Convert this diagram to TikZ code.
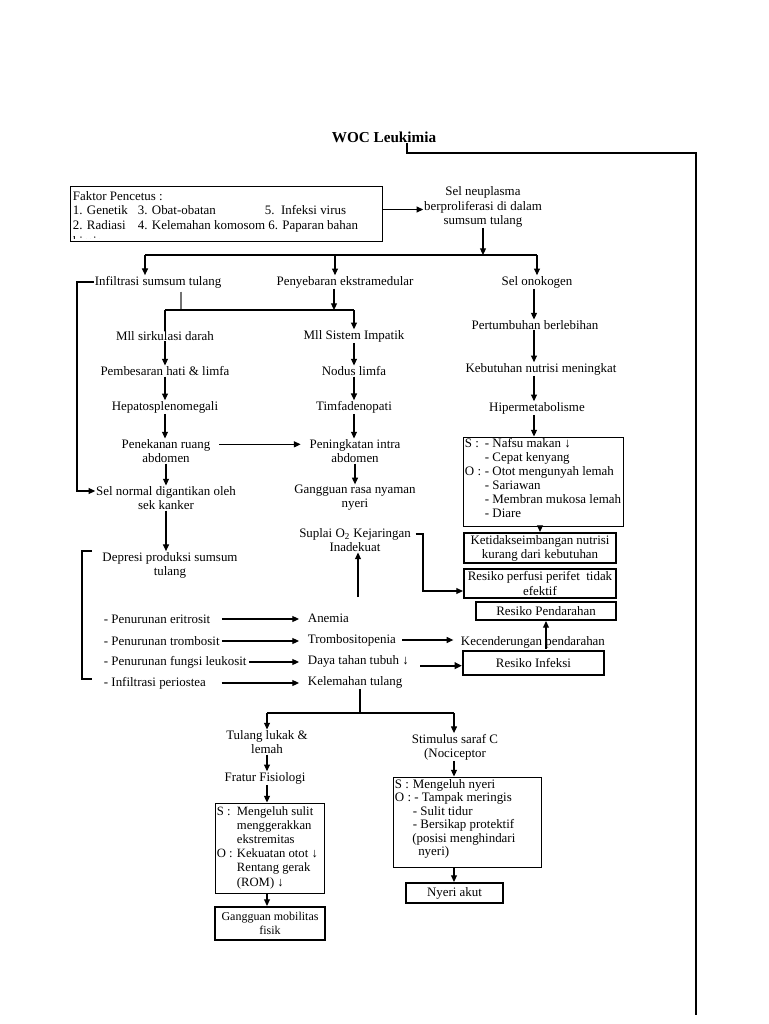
\documentclass[tikz,border=0pt]{standalone}
\usepackage{fontspec}
\setmainfont{Liberation Serif}
\usetikzlibrary{arrows.meta}
\newcommand\myfs{\fontsize{9.7}{10.6}\selectfont}
\begin{document}
\begin{tikzpicture}[x=0.75pt,y=-0.75pt,
 txt/.style={inner sep=0.5pt,align=center,font=\myfs},
 ltxt/.style={inner sep=0.5pt,anchor=west,align=left,font=\myfs},
 thinbox/.style={draw,line width=0.75pt,inner sep=0pt,font=\myfs,align=center},
 thickbox/.style={draw,line width=1.6pt,inner sep=0pt,font=\myfs,align=center},
 ln/.style={line width=0.8pt},
 arr/.style={line width=0.8pt,-{Triangle[length=5pt,width=4.5pt]}},
 tarr/.style={line width=1.5pt,-{Triangle[length=5.5pt,width=5pt]}},
]
\fill[white] (0,0) rectangle (768,1024);
\path[use as bounding box] (0,0) rectangle (768,1024);

% title and frame
\node[font=\fontsize{11.4}{13}\selectfont\bfseries,inner sep=0.5pt] (title) at (384,137) {WOC Leukimia};
\coordinate (fr0) at (407,143);
\draw[ln] (fr0) -- (407,153) -- (696,153) -- (696,1015);

% faktor pencetus
\node[thinbox,minimum width=234pt,minimum height=41.25pt] (faktor) at (226,213.5) {};
\node[ltxt,font=\fontsize{9.7}{10.9}\selectfont] (faktxt) at (72,211.5) {Faktor Pencetus :\\
\makebox[48.75pt][l]{1. Genetik}\makebox[95.25pt][l]{3. Obat-obatan}5.\ \ Infeksi virus\\
\makebox[48.75pt][l]{2. Radiasi}4. Kelemahan komosom 6. Paparan bahan};
\begin{scope}
\clip (71,187) rectangle (381,238.5);
\node[ltxt] (kimia) at (72,241.5) {kimia};
\end{scope}

\node[txt] (neup) at (483,207) {Sel neuplasma\\berproliferasi di dalam\\sumsum tulang};
\draw[arr] ([yshift=3pt]faktor.east) -- ([yshift=3pt]faktor.east -| neup.west);

% first split
\coordinate (b0) at (483,255);
\coordinate (bL) at (145,255);
\coordinate (bM) at (335,255);
\coordinate (bR) at (537,255);
\node[txt] (infil) at (158,282) {Infiltrasi sumsum tulang};
\node[txt] (penyeb) at (345,282) {Penyebaran ekstramedular};
\node[txt] (onko) at (537,282) {Sel onokogen};
\draw[arr] (neup.south) -- (b0);
\draw[ln] (bL) -- (bR);
\draw[arr] (bL) -- (bL |- infil.north);
\draw[arr] (bM) -- (bM |- penyeb.north);
\draw[arr] (bR) -- (bR |- onko.north);

% left column
\node[txt] (mll1) at (165,336) {Mll sirkulasi darah};
\node[txt] (pemb) at (165,371) {Pembesaran hati \& limfa};
\node[txt] (hepa) at (165,407) {Hepatosplenomegali};
\node[txt] (pene) at (166,451) {Penekanan ruang\\abdomen};
\node[txt] (seln) at (166,498) {Sel normal digantikan oleh\\sek kanker};
\node[txt] (depr) at (170,565) {Depresi produksi sumsum\\tulang};

% middle column
\node[txt] (mll2) at (354,336) {Mll Sistem Impatik};
\node[txt] (nodus) at (354,371) {Nodus limfa};
\node[txt] (timf) at (354,407) {Timfadenopati};
\node[txt] (peni) at (355,451) {Peningkatan intra\\abdomen};
\node[txt] (gang) at (355,498) {Gangguan rasa nyaman\\nyeri};
\node[txt] (supl) at (355,540) {Suplai O\textsubscript{2} Kejaringan\\Inadekuat};

% loop from infiltrasi
\coordinate (lp1) at (77,282);
\coordinate (lp2) at (77,491);
\draw[arr] (infil.west) -- (lp1) -- (lp2) -- (lp2 -| seln.west);

% second split
\coordinate (j0) at (165,310);
\coordinate (j1) at (181,310);
\coordinate (j2) at (334,310);
\coordinate (j3) at (354,310);
\draw[line width=0.8pt,black!55] ([yshift=-2pt]j1 |- infil.south) -- (j1);
\draw[arr] (j2 |- penyeb.south) -- (j2);
\draw[ln] (j0) -- (j3);
\draw[ln] (j0) -- (j0 |- mll1.north);
\draw[arr] (j3) -- (j3 |- mll2.north);

\draw[arr] (mll1.south) -- (mll1.south |- pemb.north);
\draw[arr] (pemb.south) -- (pemb.south |- hepa.north);
\draw[arr] (hepa.south) -- (hepa.south |- pene.north);
\draw[arr] (pene.south) -- (pene.south |- seln.north);
\draw[arr] (seln.south) -- (seln.south |- depr.north);

\draw[arr] (mll2.south) -- (mll2.south |- nodus.north);
\draw[arr] (nodus.south) -- (nodus.south |- timf.north);
\draw[arr] (timf.south) -- (timf.south |- peni.north);
\draw[arr] (peni.south) -- (peni.south |- gang.north);

\draw[arr,shorten <=6pt,shorten >=6pt] ([yshift=5pt]pene.east) -- ([yshift=5pt]peni.west);

% right column
\node[txt] (pert) at (535,325) {Pertumbuhan berlebihan};
\node[txt] (kebu) at (541,369) {Kebutuhan nutrisi meningkat};
\node[txt] (hipe) at (537,408) {Hipermetabolisme};
\coordinate (rc) at (534,300);
\draw[arr] (onko.south -| rc) -- (rc |- pert.north);
\draw[arr] (pert.south -| rc) -- (rc |- kebu.north);
\draw[arr] (kebu.south -| rc) -- (rc |- hipe.north);

\node[thinbox,minimum width=120pt,minimum height=66.75pt] (so1) at (543,481.5) {};
\node[ltxt,font=\fontsize{9.7}{10.5}\selectfont] (so1t) at (464,478) {\makebox[15pt][l]{S :}- Nafsu makan ↓\\
\hspace*{15pt}- Cepat kenyang\\
\makebox[15pt][l]{O :}- Otot mengunyah lemah\\
\hspace*{15pt}- Sariawan\\
\hspace*{15pt}- Membran mukosa lemah\\
\hspace*{15pt}- Diare};
\draw[arr] (hipe.south -| rc) -- (rc |- so1.north);

\node[thickbox,minimum width=114pt,minimum height=22.5pt] (keti) at (540,548) {Ketidakseimbangan nutrisi\\kurang dari kebutuhan};
\node[thickbox,minimum width=114pt,minimum height=21.75pt] (perf) at (540,583.5) {Resiko perfusi perifet\ \ tidak\\efektif};
\node[thickbox,minimum width=105pt,minimum height=13.5pt] (pend) at (546,611) {Resiko Pendarahan};
\node[thickbox,minimum width=105.75pt,minimum height=18pt] (infk) at (533.5,663) {Resiko Infeksi};
\draw[arr] (so1.south -| keti.north) -- (keti.north);

% suplai O2
\coordinate (sup0) at (358,597);
\draw[arr] (sup0) -- (sup0 |- supl.south);
\coordinate (sc1) at (423,534);
\coordinate (sc2) at (423,591);
\draw[arr,shorten <=3pt] (sc1 -| supl.east) -- (sc1) -- (sc2) -- (sc2 -| perf.west);

% bracket and list
\draw[ln] (92,551) -- (82,551) -- (82,679) -- (92,679);
\node[ltxt] (l1) at (103,619) {- Penurunan eritrosit};
\node[ltxt] (l2) at (103,641) {- Penurunan trombosit};
\node[ltxt] (l3) at (103,662) {- Penurunan fungsi leukosit};
\node[ltxt] (l4) at (103,683) {- Infiltrasi periostea};
\node[ltxt] (anemia) at (307,618) {Anemia};
\node[ltxt] (trombo) at (307,640) {Trombositopenia};
\node[ltxt] (daya) at (307,661) {Daya tahan tubuh ↓};
\node[ltxt] (kelem) at (307,682) {Kelemahan tulang};
\node[ltxt] (kecen) at (460,642) {Kecenderungan pendarahan};

\draw[arr,shorten <=8pt,shorten >=6pt] (l1.east) -- (l1.east -| anemia.west);
\draw[arr,shorten <=1pt,shorten >=6pt] (l2.east) -- (l2.east -| trombo.west);
\draw[arr,shorten <=1.5pt,shorten >=6pt] (l3.east) -- (l3.east -| daya.west);
\draw[arr,shorten <=11pt,shorten >=6pt] (l4.east) -- (l4.east -| kelem.west);
\draw[arr,shorten <=4pt,shorten >=5pt] (trombo.east) -- (trombo.east -| kecen.west);
\draw[arr] (pend.south |- kecen.south) -- (pend.south);
\draw[tarr,shorten <=8pt] ([yshift=-2pt]infk.west -| daya.east) -- ([yshift=-2pt]infk.west);

% bottom split
\coordinate (k0) at (267,713);
\coordinate (k1) at (360,713);
\coordinate (k2) at (454,713);
\node[txt] (tulang) at (267,742) {Tulang lukak \&\\lemah};
\node[txt] (fratur) at (265,778) {Fratur Fisiologi};
\node[txt] (stim) at (455,747) {Stimulus saraf C\\(Nociceptor};
\draw[ln] (k1 |- kelem.south) -- (k1);
\draw[ln] (k0) -- (k2);
\draw[arr] (k0) -- (k0 |- tulang.north);
\draw[arr] (k2) -- (k2 |- stim.north);

\node[thinbox,minimum width=81.75pt,minimum height=67.5pt] (so2) at (269.5,848) {};
\node[ltxt,font=\fontsize{9.5}{10.65}\selectfont] (so2t) at (216,847.5) {\makebox[15pt][l]{S :}Mengeluh sulit\\
\hspace*{15pt}menggerakkan\\
\hspace*{15pt}ekstremitas\\
\makebox[15pt][l]{O :}Kekuatan otot ↓\\
\hspace*{15pt}Rentang gerak\\
\hspace*{15pt}(ROM) ↓};
\node[thickbox,minimum width=82.5pt,minimum height=24.75pt,font=\fontsize{9}{10.6}\selectfont] (mob) at (270,923.5) {Gangguan mobilitas\\fisik};

\draw[arr] (tulang.south -| k0) -- (k0 |- fratur.north);
\draw[arr] (fratur.south -| k0) -- (k0 |- so2.north);
\draw[arr] (so2.south -| k0) -- (k0 |- mob.north);

\node[thinbox,minimum width=111pt,minimum height=67.5pt] (so3) at (467,822) {};
\node[ltxt,font=\fontsize{9.7}{10.1}\selectfont] (so3t) at (394,819) {\makebox[13.5pt][l]{S :}Mengeluh nyeri\\
O :~- Tampak meringis\\
\hspace*{13.5pt}- Sulit tidur\\
\hspace*{13.5pt}- Bersikap protektif\\
\hspace*{13pt}(posisi menghindari\\
\hspace*{17.5pt}nyeri)};
\node[thickbox,minimum width=72.75pt,minimum height=15pt] (nyeri) at (454.5,893) {Nyeri akut};
\draw[arr] (stim.south -| k2) -- (k2 |- so3.north);
\draw[arr] (so3.south -| k2) -- (k2 |- nyeri.north);
\end{tikzpicture}
\end{document}
